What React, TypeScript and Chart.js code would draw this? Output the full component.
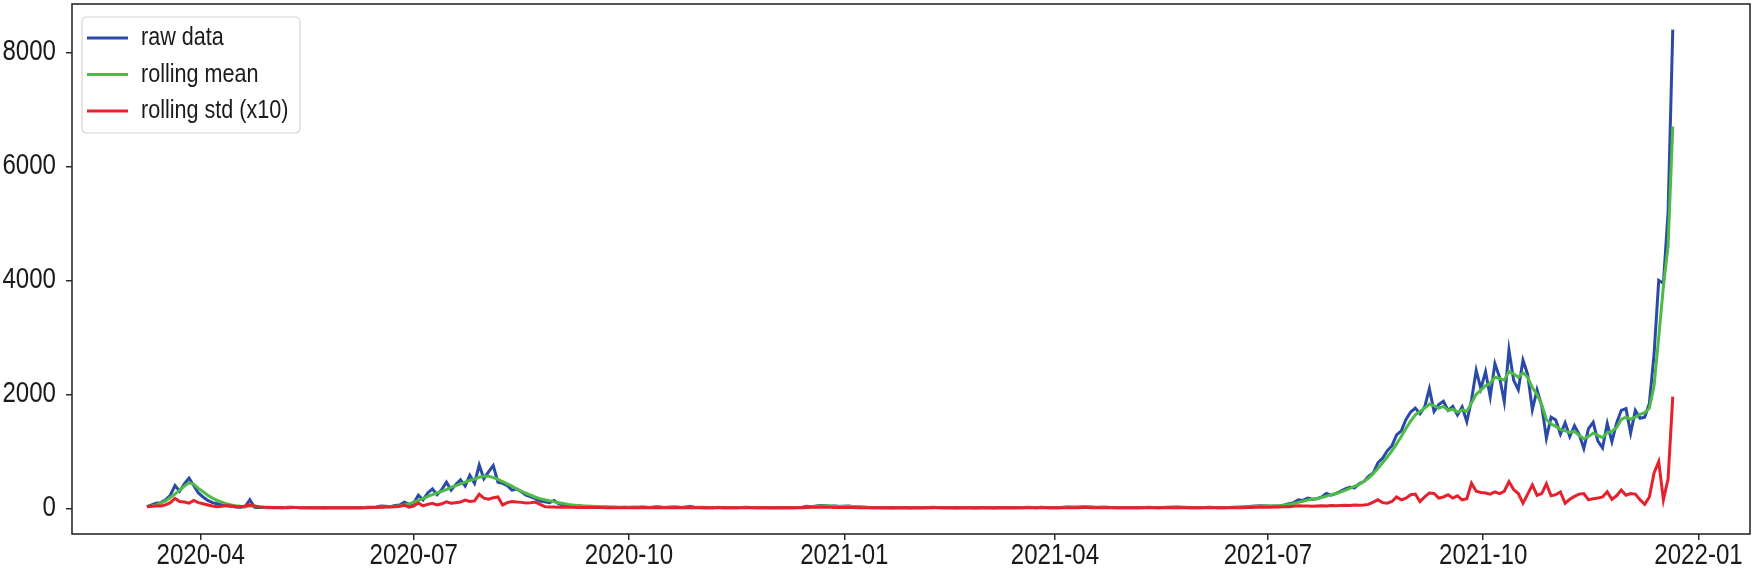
import React, { useEffect, useRef } from "react";
import { Chart, registerables } from "chart.js";

Chart.register(...registerables);

// x values are days counted from 2020-01-01; one sample every STEP_DAYS days from START_DAY (2020-03-09)
const START_DAY = 68;
const STEP_DAYS = 2;

const RAW_DATA = [
  // 2020-03
  30, 60, 90, 100, 150, 230, 400, 300, 430, 530, 400, 270,
  // 2020-04
  200, 140, 100, 80, 60, 45, 35, 25, 20, 30, 150, 20, 15, 15, 10,
  // 2020-05
  12, 15, 10, 18, 20, 15, 12, 10, 15, 12, 10, 8, 10, 12, 10,
  // 2020-06
  10, 12, 10, 15, 12, 18, 20, 25, 40, 35, 30, 50, 60, 110, 70,
  // 2020-07
  90, 230, 150, 270, 340, 240, 330, 460, 320, 420, 500, 390, 580, 440, 760, 520,
  // 2020-08
  640, 750, 460, 440, 400, 320, 340, 290, 230, 200, 170, 130, 115, 100, 140,
  // 2020-09
  80, 60, 50, 45, 40, 35, 30, 28, 25, 20, 22, 18, 20, 15, 18,
  // 2020-10
  15, 20, 18, 25, 15, 20, 30, 18, 15, 22, 25, 15, 20, 35, 18, 15,
  // 2020-11
  12, 15, 10, 18, 12, 15, 10, 12, 15, 20, 15, 10, 12, 15, 10,
  // 2020-12
  10, 12, 15, 10, 12, 15, 18, 35, 30, 40, 50, 45, 35, 40, 30,
  // 2021-01
  35, 40, 30, 25, 20, 15, 12, 10, 12, 10, 8, 10, 12, 10, 8, 10,
  // 2021-02
  10, 12, 15, 18, 15, 12, 10, 10, 8, 10, 12, 10, 8, 10,
  // 2021-03
  10, 12, 8, 10, 15, 12, 10, 15, 12, 18, 15, 12, 20, 15, 12,
  // 2021-04
  15, 12, 20, 25, 18, 20, 30, 25, 20, 15, 18, 20, 15, 12, 15,
  // 2021-05
  12, 15, 10, 12, 15, 20, 15, 12, 15, 18, 20, 25, 20, 15, 12, 15,
  // 2021-06
  12, 15, 18, 15, 12, 10, 15, 18, 20, 25, 30, 35, 40, 45, 40,
  // 2021-07
  35, 40, 45, 60, 80, 100, 150, 140, 180, 160, 170, 200, 260, 230, 260,
  // 2021-08
  300, 340, 370, 360, 430, 470, 560, 620, 800, 880, 1010, 1100, 1290, 1360, 1560, 1690,
  // 2021-09
  1760, 1660, 1780, 2100, 1700, 1820, 1880, 1720, 1790, 1640, 1780, 1520, 1900, 2420, 2100,
  // 2021-10
  2400, 1960, 2540, 2300, 1870, 2780, 2250, 2080, 2600, 2350, 1730, 2080, 1800, 1230, 1600,
  // 2021-11
  1550, 1300, 1500, 1260, 1450, 1300, 1050, 1400, 1510, 1180, 1060, 1490, 1170, 1500, 1720,
  // 2021-12
  1750, 1320, 1720, 1580, 1600, 1840, 2700, 4000, 3950, 5200, 8400,
];

const ROLLING_MEAN = [
  // 2020-03
  30, 40, 60, 90, 130, 190, 250, 320, 390, 450, 420, 350,
  // 2020-04
  290, 230, 180, 140, 110, 80, 60, 45, 35, 30, 45, 40, 30, 20, 15,
  // 2020-05
  15, 14, 13, 14, 15, 16, 15, 13, 12, 12, 11, 10, 10, 11, 11,
  // 2020-06
  11, 11, 12, 12, 13, 14, 16, 19, 24, 30, 33, 38, 45, 58, 75,
  // 2020-07
  110, 140, 170, 210, 240, 270, 300, 330, 370, 400, 430, 460, 490, 515, 545, 565,
  // 2020-08
  565, 540, 510, 470, 430, 390, 340, 300, 265, 230, 195, 170, 150, 135, 115,
  // 2020-09
  100, 85, 70, 60, 52, 45, 40, 36, 32, 28, 25, 22, 20, 19, 18,
  // 2020-10
  18, 18, 19, 20, 20, 21, 22, 21, 20, 20, 21, 21, 22, 22, 21, 20,
  // 2020-11
  18, 16, 15, 14, 14, 14, 13, 13, 14, 15, 15, 14, 13, 13, 12,
  // 2020-12
  12, 12, 12, 13, 13, 14, 16, 22, 28, 34, 40, 42, 42, 40, 38,
  // 2021-01
  36, 34, 31, 27, 23, 19, 16, 13, 12, 11, 10, 10, 10, 10, 10, 10,
  // 2021-02
  10, 11, 12, 13, 14, 13, 12, 11, 10, 10, 10, 10, 10, 10,
  // 2021-03
  10, 10, 10, 11, 12, 12, 12, 13, 13, 14, 15, 15, 15, 15, 15,
  // 2021-04
  15, 16, 18, 20, 21, 22, 23, 24, 22, 20, 19, 18, 17, 16, 15,
  // 2021-05
  14, 13, 13, 13, 14, 15, 16, 16, 16, 17, 18, 19, 19, 18, 16, 15,
  // 2021-06
  14, 14, 14, 14, 13, 13, 14, 16, 18, 21, 25, 30, 35, 38, 40,
  // 2021-07
  40, 42, 46, 55, 68, 85, 105, 125, 145, 160, 172, 190, 215, 240, 260,
  // 2021-08
  285, 315, 350, 385, 420, 470, 530, 610, 700, 800, 900, 1010, 1130, 1260, 1400, 1530,
  // 2021-09
  1640, 1700, 1760, 1830, 1800, 1760, 1790, 1720, 1740, 1690, 1730, 1700, 1850, 2000, 2080,
  // 2021-10
  2150, 2200, 2300, 2280, 2250, 2400, 2360, 2300, 2380, 2300, 2120, 2000, 1820, 1560, 1480,
  // 2021-11
  1440, 1380, 1360, 1330, 1350, 1280, 1220, 1260, 1320, 1280, 1240, 1330, 1350, 1420, 1560,
  // 2021-12
  1600, 1560, 1600, 1650, 1680, 1760, 2150, 3000, 3900, 4600, 6700,
];

const ROLLING_STD_X10 = [
  // 2020-03
  30, 35, 40, 40, 60, 100, 175, 120, 110, 90, 140, 100,
  // 2020-04
  80, 60, 40, 30, 35, 50, 40, 30, 30, 40, 60, 40, 25, 20, 18,
  // 2020-05
  15, 15, 12, 12, 14, 15, 12, 10, 10, 12, 10, 10, 10, 10, 10,
  // 2020-06
  10, 10, 10, 12, 12, 12, 14, 15, 18, 22, 25, 28, 35, 55, 20,
  // 2020-07
  40, 95, 45, 70, 90, 60, 80, 115, 90, 100, 110, 145, 120, 130, 250, 180,
  // 2020-08
  160, 185, 200, 60, 100, 120, 110, 105, 95, 100, 110, 70, 30, 25, 25,
  // 2020-09
  20, 20, 18, 18, 16, 15, 15, 14, 14, 13, 12, 12, 12, 12, 12,
  // 2020-10
  12, 12, 12, 13, 12, 12, 14, 12, 12, 12, 13, 12, 12, 14, 12, 12,
  // 2020-11
  10, 10, 10, 10, 10, 10, 10, 10, 10, 10, 10, 10, 10, 10, 10,
  // 2020-12
  10, 10, 10, 10, 10, 10, 12, 15, 18, 20, 22, 20, 18, 16, 15,
  // 2021-01
  15, 14, 13, 12, 12, 11, 10, 10, 10, 10, 10, 10, 10, 10, 10, 10,
  // 2021-02
  10, 10, 10, 10, 10, 10, 10, 10, 10, 10, 10, 10, 10, 10,
  // 2021-03
  10, 10, 10, 10, 10, 10, 10, 10, 10, 10, 10, 10, 10, 10, 10,
  // 2021-04
  10, 10, 12, 12, 12, 12, 14, 14, 12, 12, 10, 10, 10, 10, 10,
  // 2021-05
  10, 10, 10, 10, 10, 10, 10, 10, 10, 10, 10, 10, 10, 10, 10, 10,
  // 2021-06
  10, 10, 10, 10, 10, 10, 10, 10, 10, 12, 14, 16, 18, 20, 20,
  // 2021-07
  20, 22, 25, 28, 30, 35, 45, 40, 40, 35, 40, 45, 40, 50, 45,
  // 2021-08
  50, 55, 50, 60, 55, 60, 70, 110, 150, 100, 90, 120, 200, 150, 180, 240,
  // 2021-09
  250, 120, 200, 270, 260, 180, 200, 240, 180, 220, 150, 170, 440, 300, 280,
  // 2021-10
  270, 250, 290, 260, 300, 470, 330, 260, 90, 250, 410, 230, 260, 430, 220,
  // 2021-11
  240, 290, 90, 160, 210, 250, 260, 150, 170, 180, 200, 290, 160, 220, 320,
  // 2021-12
  230, 260, 250, 150, 70, 200, 620, 820, 150, 520, 1960,
];

const SERIES_LABELS = ["raw data", "rolling mean", "rolling std (x10)"];
const SERIES_COLORS = ["#2a4aa8", "#4dbb45", "#e6202c"];

const X_TICK_DAYS = [91, 182, 274, 366, 456, 547, 639, 731];
const X_TICK_LABELS = ["2020-04", "2020-07", "2020-10", "2021-01", "2021-04", "2021-07", "2021-10", "2022-01"];
const Y_TICKS = [0, 2000, 4000, 6000, 8000];

const X_MIN = 36;
const X_MAX = 753;
const Y_MIN = -450;
const Y_MAX = 8850;

const FONT = '"Liberation Sans", Arial, sans-serif';
const TEXT_SQUEEZE = 0.83; // the reference text is horizontally condensed

const toPoints = (arr: number[]) => arr.map((v, i) => ({ x: START_DAY + i * STEP_DAYS, y: v }));

function squeezedText(ctx: CanvasRenderingContext2D, text: string, x: number, y: number) {
  ctx.save();
  ctx.translate(x, y);
  ctx.scale(TEXT_SQUEEZE, 1);
  ctx.fillText(text, 0, 0);
  ctx.restore();
}

const framePlugin = {
  id: "frameLabelsLegend",
  afterDraw(chart: any) {
    const ctx: CanvasRenderingContext2D = chart.ctx;
    const { left, top, right, bottom } = chart.chartArea;
    ctx.save();

    // axes frame
    ctx.strokeStyle = "#2b2b2b";
    ctx.lineWidth = 1.6;
    ctx.strokeRect(left, top, right - left, bottom - top);

    // tick labels
    ctx.fillStyle = "#1a1a1a";
    ctx.font = `29px ${FONT}`;
    ctx.textBaseline = "middle";
    ctx.textAlign = "center";
    const xs = chart.scales.x;
    X_TICK_DAYS.forEach((d, i) => {
      squeezedText(ctx, X_TICK_LABELS[i], xs.getPixelForValue(d), bottom + 22);
    });
    ctx.textAlign = "right";
    const ys = chart.scales.y;
    Y_TICKS.forEach((v) => {
      squeezedText(ctx, String(v), left - 16, ys.getPixelForValue(v));
    });

    // legend box (upper left, inside the axes)
    const bx = left + 10;
    const by = top + 13;
    const bw = 218;
    const bh = 116;
    const r = 5;
    ctx.beginPath();
    ctx.moveTo(bx + r, by);
    ctx.lineTo(bx + bw - r, by);
    ctx.quadraticCurveTo(bx + bw, by, bx + bw, by + r);
    ctx.lineTo(bx + bw, by + bh - r);
    ctx.quadraticCurveTo(bx + bw, by + bh, bx + bw - r, by + bh);
    ctx.lineTo(bx + r, by + bh);
    ctx.quadraticCurveTo(bx, by + bh, bx, by + bh - r);
    ctx.lineTo(bx, by + r);
    ctx.quadraticCurveTo(bx, by, bx + r, by);
    ctx.closePath();
    ctx.fillStyle = "rgba(255,255,255,0.85)";
    ctx.fill();
    ctx.strokeStyle = "#d4d4d4";
    ctx.lineWidth = 1.2;
    ctx.stroke();

    chart.data.datasets.forEach((ds: any, i: number) => {
      const y = by + 21 + i * 36.5;
      ctx.beginPath();
      ctx.strokeStyle = ds.borderColor;
      ctx.lineWidth = 3.2;
      ctx.moveTo(bx + 5, y);
      ctx.lineTo(bx + 46, y);
      ctx.stroke();
      ctx.fillStyle = "#1a1a1a";
      ctx.font = `26px ${FONT}`;
      ctx.textBaseline = "middle";
      ctx.textAlign = "left";
      squeezedText(ctx, ds.label, bx + 59, y);
    });
    ctx.restore();
  },
};

export default function App() {
  const canvasRef = useRef<HTMLCanvasElement | null>(null);

  useEffect(() => {
    if (!canvasRef.current) return;
    const series = [RAW_DATA, ROLLING_MEAN, ROLLING_STD_X10];
    const chart = new Chart(canvasRef.current, {
      type: "line",
      data: {
        datasets: series.map((arr, i) => ({
          label: SERIES_LABELS[i],
          data: toPoints(arr),
          borderColor: SERIES_COLORS[i],
          backgroundColor: SERIES_COLORS[i],
          borderWidth: 3,
          pointRadius: 0,
          tension: 0,
          fill: false,
          order: 2 - i,
        })),
      },
      options: {
        animation: false,
        responsive: false,
        maintainAspectRatio: false,
        layout: { padding: { top: 4, right: 5, left: 0, bottom: 0 } },
        plugins: {
          legend: { display: false },
          tooltip: { enabled: false },
        },
        scales: {
          x: {
            type: "linear",
            min: X_MIN,
            max: X_MAX,
            afterBuildTicks: (scale: any) => {
              scale.ticks = X_TICK_DAYS.map((v) => ({ value: v }));
            },
            afterFit: (scale: any) => {
              scale.height = 45;
              scale.paddingLeft = 0;
              scale.paddingRight = 0;
            },
            grid: {
              drawOnChartArea: false,
              drawTicks: true,
              tickLength: 6,
              color: "#2b2b2b",
              lineWidth: 1.5,
            },
            border: { display: false },
            ticks: { display: false },
          },
          y: {
            type: "linear",
            min: Y_MIN,
            max: Y_MAX,
            afterBuildTicks: (scale: any) => {
              scale.ticks = Y_TICKS.map((v) => ({ value: v }));
            },
            afterFit: (scale: any) => {
              scale.width = 72;
              scale.paddingTop = 0;
              scale.paddingBottom = 0;
            },
            grid: {
              drawOnChartArea: false,
              drawTicks: true,
              tickLength: 6,
              color: "#2b2b2b",
              lineWidth: 1.5,
            },
            border: { display: false },
            ticks: { display: false },
          },
        },
      },
      plugins: [framePlugin],
    });
    return () => chart.destroy();
  }, []);

  return (
    <div style={{ position: "fixed", left: 0, top: 0, width: 1755, height: 579, background: "#ffffff" }}>
      <canvas ref={canvasRef} width={1755} height={579} style={{ width: 1755, height: 579, display: "block" }} />
    </div>
  );
}
